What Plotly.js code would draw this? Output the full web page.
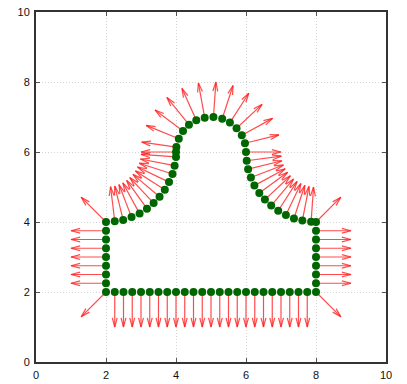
<!DOCTYPE html>
<html>
<head>
<meta charset="utf-8">
<script src="https://cdn.plot.ly/plotly-3.0.1.min.js"></script>
<style>html,body{margin:0;padding:0;background:#fff;}#chart{width:407px;height:384px;}</style>
</head>
<body>
<div id="chart"></div>
<script>
// Boundary points (green dots)
const ptX = [
  2,2.25,2.5,2.75,3,3.25,3.5,3.75,4,4.25,4.5,4.75,5,5.25,5.5,5.75,6,6.25,6.5,6.75,7,7.25,7.5,7.75,8,
  8,8,8,8,8,8,8,8,
  7.86,7.61,7.37,7.14,6.92,6.72,6.54,6.38,6.24,6.14,6.06,6.02,6.00,
  5.97,5.88,5.73,5.54,5.32,5.07,4.82,4.58,4.37,4.20,4.08,4.01,4.00,
  4.00,3.96,3.90,3.80,3.68,3.53,3.36,3.17,2.96,2.73,2.49,2.25,2.00,
  2,2,2,2,2,2,2
];
const ptY = [
  2,2,2,2,2,2,2,2,2,2,2,2,2,2,2,2,2,2,2,2,2,2,2,2,2,
  2.25,2.5,2.75,3,3.25,3.5,3.75,4,
  4.01,4.04,4.10,4.20,4.32,4.47,4.64,4.83,5.04,5.27,5.51,5.75,6.00,
  6.25,6.48,6.68,6.84,6.95,7.00,6.98,6.91,6.78,6.60,6.38,6.14,6.00,
  5.86,5.61,5.37,5.14,4.92,4.72,4.54,4.38,4.24,4.14,4.06,4.02,4.00,
  3.75,3.5,3.25,3,2.75,2.5,2.25
];
// Arrow tips (normal vectors, red arrows)
const tipX = [
  1.29,2.25,2.5,2.75,3,3.25,3.5,3.75,4,4.25,4.5,4.75,5,5.25,5.5,5.75,6,6.25,6.5,6.75,7,7.25,7.5,7.75,8.71,
  9,9,9,9,9,9,9,8.71,
  7.93,7.80,7.68,7.57,7.46,7.36,7.27,7.19,7.12,7.07,7.03,7.01,7.00,
  6.94,6.76,6.46,6.08,5.63,5.14,4.64,4.17,3.74,3.40,3.15,3.02,3.00,
  3.00,2.98,2.95,2.90,2.84,2.77,2.68,2.59,2.48,2.37,2.25,2.13,1.29,
  1,1,1,1,1,1,1
];
const tipY = [
  1.29,1,1,1,1,1,1,1,1,1,1,1,1,1,1,1,1,1,1,1,1,1,1,1,1.29,
  2.25,2.5,2.75,3,3.25,3.5,3.75,4.71,
  5.00,5.02,5.05,5.10,5.16,5.23,5.32,5.42,5.52,5.63,5.75,5.88,6.00,
  6.49,6.96,7.36,7.68,7.90,8.00,7.97,7.82,7.56,7.20,6.76,6.28,6.00,
  5.93,5.80,5.68,5.57,5.46,5.36,5.27,5.19,5.12,5.07,5.03,5.01,4.71,
  3.75,3.5,3.25,3,2.75,2.5,2.25
];
const tickVals = [0,2,4,6,8,10];
const tickText = ['0','2','4','6','8','10'];

// Build arrow shafts + open V heads
const ax = [], ay = [];
const headLen = 0.27, headAng = 15 * Math.PI / 180;
for (let i = 0; i < ptX.length; i++) {
  const x0 = ptX[i], y0 = ptY[i], x1 = tipX[i], y1 = tipY[i];
  const dx = x1 - x0, dy = y1 - y0, L = Math.hypot(dx, dy);
  const ux = dx / L, uy = dy / L;
  const c = Math.cos(headAng), s = Math.sin(headAng);
  const b1x = x1 - headLen * (ux * c - uy * s), b1y = y1 - headLen * (uy * c + ux * s);
  const b2x = x1 - headLen * (ux * c + uy * s), b2y = y1 - headLen * (uy * c - ux * s);
  ax.push(x0, x1, null, b1x, x1, b2x, null);
  ay.push(y0, y1, null, b1y, y1, b2y, null);
}

const traces = [
  {x: ax, y: ay, type: 'scatter', mode: 'lines', connectgaps: false,
   line: {color: 'rgba(255,30,30,0.8)', width: 1.2}, hoverinfo: 'skip'},
  {x: ptX, y: ptY, type: 'scatter', mode: 'markers',
   marker: {color: '#006600', size: 8, line: {width: 0}}, hoverinfo: 'skip'}
];

const axisCommon = {
  range: [0, 10], tickvals: tickVals, ticktext: tickText,
  showgrid: true, gridcolor: '#d4d4d4', griddash: '1px,2px', gridwidth: 1,
  zeroline: false, showline: true, linecolor: '#333', linewidth: 2, mirror: 'ticks',
  ticks: 'inside', ticklen: 4, tickcolor: '#555', tickwidth: 1,
  tickfont: {family: 'Liberation Sans, Arial, sans-serif', size: 11, color: '#111111'}
};

const layout = {
  width: 407, height: 384,
  margin: {l: 36, r: 21, t: 12, b: 22, pad: 0},
  paper_bgcolor: '#fff', plot_bgcolor: '#fff',
  showlegend: false, hovermode: false,
  xaxis: Object.assign({}, axisCommon, {ticklabelstandoff: 2}),
  yaxis: Object.assign({}, axisCommon, {ticklabelstandoff: 2})
};

Plotly.newPlot('chart', traces, layout, {staticPlot: true, displayModeBar: false});
</script>
</body>
</html>
